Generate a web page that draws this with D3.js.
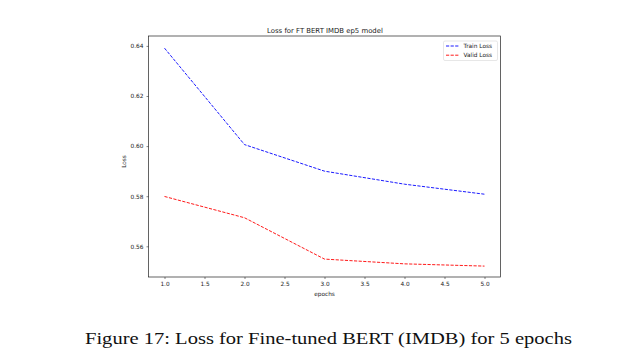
<!DOCTYPE html>
<html>
<head>
<meta charset="utf-8">
<script src="https://cdn.jsdelivr.net/npm/d3@7"></script>
<style>
  body { margin: 0; background: #fff; }
  svg { display: block; }
  .tick text { font-family: "DejaVu Sans", sans-serif; font-size: 5.8px; fill: #222; }
</style>
</head>
<body>
<div id="chart"></div>
<script>
// data
var epochs = [1, 2, 3, 4, 5];
var trainLoss = [0.6391, 0.6006, 0.5900, 0.5848, 0.5808];
var validLoss = [0.5799, 0.5714, 0.5549, 0.5530, 0.5521];
var xTicks = [1.0, 1.5, 2.0, 2.5, 3.0, 3.5, 4.0, 4.5, 5.0];
var yTicks = [0.56, 0.58, 0.60, 0.62, 0.64];

var W = 624, H = 363;
var box = {left: 148.5, right: 500.5, top: 36, bottom: 277};

var svg = d3.select("#chart").append("svg")
	.attr("width", W)
	.attr("height", H);

var x = d3.scaleLinear().domain([0.8, 5.2]).range([box.left, box.right]);
var y = d3.scaleLinear().domain([0.54775, 0.64395]).range([box.bottom, box.top]);

// axes
var xAxis = svg.append("g")
	.attr("transform", "translate(0," + box.bottom + ")")
	.call(d3.axisBottom(x).tickValues(xTicks).tickSize(2).tickPadding(3).tickFormat(d3.format(".1f")));
var yAxis = svg.append("g")
	.attr("transform", "translate(" + box.left + ",0)")
	.call(d3.axisLeft(y).tickValues(yTicks).tickSize(2).tickPadding(3).tickFormat(d3.format(".2f")));
[xAxis, yAxis].forEach(function(a) {
	a.select(".domain").remove();
	a.selectAll(".tick line").attr("stroke", "#333").attr("stroke-width", 0.6);
});

// frame
svg.append("rect")
	.attr("x", box.left).attr("y", box.top)
	.attr("width", box.right - box.left).attr("height", box.bottom - box.top)
	.attr("fill", "none").attr("stroke", "#222").attr("stroke-width", 0.7);

// lines
var line = d3.line()
	.x(function(d) { return x(d[0]); })
	.y(function(d) { return y(d[1]); });

var series = [
	{name: "Train Loss", color: "#0000ff", values: trainLoss},
	{name: "Valid Loss", color: "#ff0000", values: validLoss}
];

series.forEach(function(s) {
	svg.append("path")
		.datum(epochs.map(function(e, i) { return [e, s.values[i]]; }))
		.attr("d", line)
		.attr("fill", "none")
		.attr("stroke", s.color)
		.attr("stroke-width", 0.9)
		.attr("stroke-dasharray", "3.2,1.4");
});

// title and labels
svg.append("text")
	.attr("x", 325).attr("y", 33.2)
	.attr("text-anchor", "middle")
	.style("font-family", "DejaVu Sans, sans-serif").style("font-size", "6.9px").style("fill", "#222")
	.text("Loss for FT BERT IMDB ep5 model");

svg.append("text")
	.attr("x", 324.5).attr("y", 296)
	.attr("text-anchor", "middle")
	.style("font-family", "DejaVu Sans, sans-serif").style("font-size", "5.8px").style("fill", "#222")
	.text("epochs");

svg.append("text")
	.attr("transform", "translate(126,161.5) rotate(-90)")
	.attr("text-anchor", "middle")
	.style("font-family", "DejaVu Sans, sans-serif").style("font-size", "5.8px").style("fill", "#222")
	.text("Loss");

// legend
var legend = svg.append("g");
legend.append("rect")
	.attr("x", 443.5).attr("y", 41).attr("width", 54).attr("height", 19.5).attr("rx", 1.5)
	.attr("fill", "#fff").attr("stroke", "#d6d6d6").attr("stroke-width", 0.6);
series.forEach(function(s, i) {
	var ly = 46 + i * 9.2;
	legend.append("line")
		.attr("x1", 446).attr("x2", 459).attr("y1", ly).attr("y2", ly)
		.attr("stroke", s.color).attr("stroke-width", 0.9).attr("stroke-dasharray", "3.2,1.4");
	legend.append("text")
		.attr("x", 463.5).attr("y", ly + 2)
		.style("font-family", "DejaVu Sans, sans-serif").style("font-size", "5.8px").style("fill", "#222")
		.text(s.name);
});

// caption
svg.append("text")
	.attr("x", 85).attr("y", 343.5)
	.attr("textLength", 487).attr("lengthAdjust", "spacingAndGlyphs")
	.style("font-family", "Liberation Serif, DejaVu Serif, serif").style("font-size", "17.6px").style("fill", "#111")
	.text("Figure 17: Loss for Fine-tuned BERT (IMDB) for 5 epochs");
</script>
</body>
</html>
